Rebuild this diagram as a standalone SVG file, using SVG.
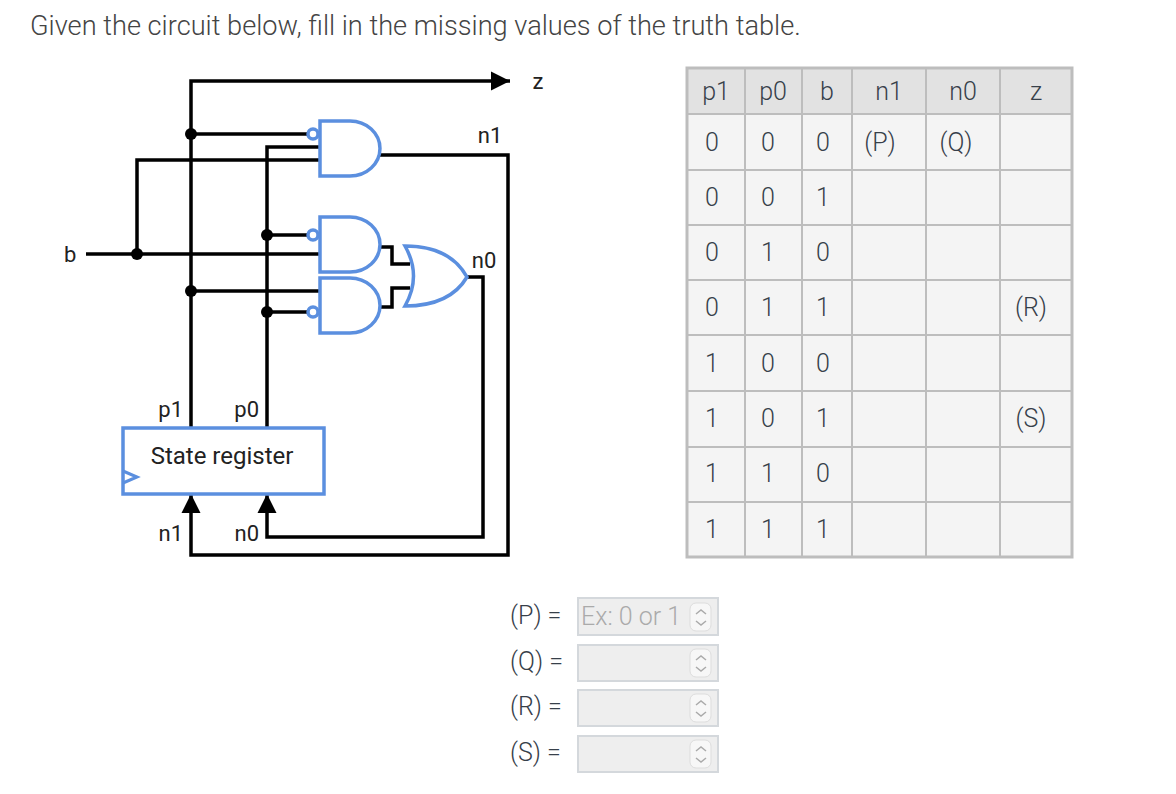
<svg xmlns="http://www.w3.org/2000/svg" width="1176" height="794" viewBox="0 0 1176 794">
<defs>
<style>
.w{fill:none;stroke:#000;stroke-width:3.5}
.g{fill:#fff;stroke:#5b8fdf;stroke-width:3.5}
.t{font-family:Roboto,"Liberation Sans",sans-serif;font-size:22px;fill:#222}
.tt{font-family:Roboto,"Liberation Sans",sans-serif;font-size:25px;fill:#37404a;text-anchor:middle;font-weight:300}
.h{fill:#e2e2e2;stroke:#bdbdbd;stroke-width:2}
.c{fill:#f4f4f4;stroke:#bdbdbd;stroke-width:2}
.in{fill:#eeeeee;stroke:#d4d8dc;stroke-width:2}
.sp{fill:#f7f7f7;stroke:#ddd;stroke-width:1}
</style>
<marker id="ah" viewBox="0 0 10 10" refX="10" refY="5" markerWidth="5.5" markerHeight="5.5" orient="auto"><path d="M0,0L10,5L0,10z" fill="#000"/></marker>
</defs>
<rect width="1176" height="794" fill="#fff"/>
<text x="30" y="35" style="font-family:Roboto,'Liberation Sans',sans-serif;font-size:27.2px;fill:#444;font-weight:300">Given the circuit below, fill in the missing values of the truth table.</text>

<g id="connectors">
<path class="w" d="M191,428V81H510" marker-end="url(#ah)"/>
<path class="w" d="M267,428V147H320"/>
<path class="w" d="M191,134H308"/>
<path class="w" d="M86,254H320"/>
<path class="w" d="M137,254V160H320"/>
<path class="w" d="M267,235H308"/>
<path class="w" d="M191,291H320"/>
<path class="w" d="M267,312H308"/>
<path class="w" d="M380,155H508V555H191V494" marker-end="url(#ah)"/>
<path class="w" d="M378,247H392V264H410"/>
<path class="w" d="M378,307H392V288H410"/>
<path class="w" d="M466,277H483V537H267V494" marker-end="url(#ah)"/>
<circle cx="191" cy="134" r="6"/>
<circle cx="137" cy="254" r="6"/>
<circle cx="267" cy="235" r="6"/>
<circle cx="191" cy="291" r="6"/>
<circle cx="267" cy="312" r="6"/>
</g>

<g id="and1"><path class="g" d="M320,121H350A30,27.5 0 0 1 350,176H320Z"/><circle class="g" cx="313" cy="134" r="5" stroke-width="3"/></g>
<g id="and2"><path class="g" d="M320,217H350A30,27.5 0 0 1 350,272H320Z"/><circle class="g" cx="313" cy="235" r="5" stroke-width="3"/></g>
<g id="and3"><path class="g" d="M320,278H350A30,27.5 0 0 1 350,333H320Z"/><circle class="g" cx="313" cy="312" r="5" stroke-width="3"/></g>
<g id="or"><path class="g" d="M405,246Q450,246 467,277Q450,306 405,306Q422,276 405,246Z"/></g>
<g id="register"><rect class="g" x="123" y="428" width="201" height="66"/><path d="M123,471L137,477L123,483" fill="none" stroke="#5b8fdf" stroke-width="3"/>
<text class="t" x="222" y="464" text-anchor="middle" style="font-size:24px">State register</text></g>

<g id="labels">
<text class="t" x="538" y="89" text-anchor="middle">z</text>
<text class="t" x="64" y="262">b</text>
<text class="t" x="490" y="143" text-anchor="middle">n1</text>
<text class="t" x="484" y="268" text-anchor="middle">n0</text>
<text class="t" x="183" y="417" text-anchor="end">p1</text>
<text class="t" x="259" y="417" text-anchor="end">p0</text>
<text class="t" x="183" y="541" text-anchor="end">n1</text>
<text class="t" x="259" y="541" text-anchor="end">n0</text>
</g>

<g id="table">
<rect class="h" x="687" y="68" width="385" height="46"/>
<rect class="c" x="687" y="114" width="385" height="443"/>
<path d="M687,170H1072M687,225H1072M687,280H1072M687,335H1072M687,391H1072M687,447H1072M687,502H1072M745,68V557M802,68V557M852,68V557M926,68V557M1000,68V557" stroke="#bdbdbd" stroke-width="2" fill="none"/>
<rect x="687" y="68" width="385" height="489" fill="none" stroke="#bdbdbd" stroke-width="3"/>
<text class="tt" x="716" y="100">p1</text><text class="tt" x="773" y="100">p0</text><text class="tt" x="827" y="100">b</text><text class="tt" x="889" y="100">n1</text><text class="tt" x="963" y="100">n0</text><text class="tt" x="1036" y="100">z</text>
<text class="tt" x="712" y="151">0</text><text class="tt" x="768" y="151">0</text><text class="tt" x="823" y="151">0</text><text class="tt" x="880" y="151">(P)</text><text class="tt" x="956" y="151">(Q)</text>
<text class="tt" x="712" y="206">0</text><text class="tt" x="768" y="206">0</text><text class="tt" x="823" y="206">1</text>
<text class="tt" x="712" y="261">0</text><text class="tt" x="768" y="261">1</text><text class="tt" x="823" y="261">0</text>
<text class="tt" x="712" y="316">0</text><text class="tt" x="768" y="316">1</text><text class="tt" x="823" y="316">1</text><text class="tt" x="1031" y="316">(R)</text>
<text class="tt" x="712" y="372">1</text><text class="tt" x="768" y="372">0</text><text class="tt" x="823" y="372">0</text>
<text class="tt" x="712" y="427">1</text><text class="tt" x="768" y="427">0</text><text class="tt" x="823" y="427">1</text><text class="tt" x="1031" y="427">(S)</text>
<text class="tt" x="712" y="482">1</text><text class="tt" x="768" y="482">1</text><text class="tt" x="823" y="482">0</text>
<text class="tt" x="712" y="538">1</text><text class="tt" x="768" y="538">1</text><text class="tt" x="823" y="538">1</text>
</g>

<g id="inputs">
<text class="tt" x="510" y="624" style="text-anchor:start">(P) =</text>
<text class="tt" x="510" y="670" style="text-anchor:start">(Q) =</text>
<text class="tt" x="510" y="715" style="text-anchor:start">(R) =</text>
<text class="tt" x="510" y="761" style="text-anchor:start">(S) =</text>
<rect class="in" x="578" y="598" width="140" height="37"/>
<rect class="in" x="578" y="645" width="140" height="36"/>
<rect class="in" x="578" y="690" width="140" height="36"/>
<rect class="in" x="578" y="736" width="140" height="36"/>
<text x="581" y="625" style="font-family:Roboto,'Liberation Sans',sans-serif;font-size:25px;fill:#aaa;font-weight:300">Ex: 0 or 1</text>
<g fill="none" stroke="#aaa" stroke-width="1.5">
<rect class="sp" x="690" y="603" width="21" height="28" rx="6"/><path d="M696,614l5,-4l5,4M696,621l5,4l5,-4"/>
<rect class="sp" x="690" y="649" width="21" height="28" rx="6"/><path d="M696,660l5,-4l5,4M696,667l5,4l5,-4"/>
<rect class="sp" x="690" y="694" width="21" height="28" rx="6"/><path d="M696,705l5,-4l5,4M696,712l5,4l5,-4"/>
<rect class="sp" x="690" y="740" width="21" height="28" rx="6"/><path d="M696,751l5,-4l5,4M696,758l5,4l5,-4"/>
</g>
</g>
</svg>
